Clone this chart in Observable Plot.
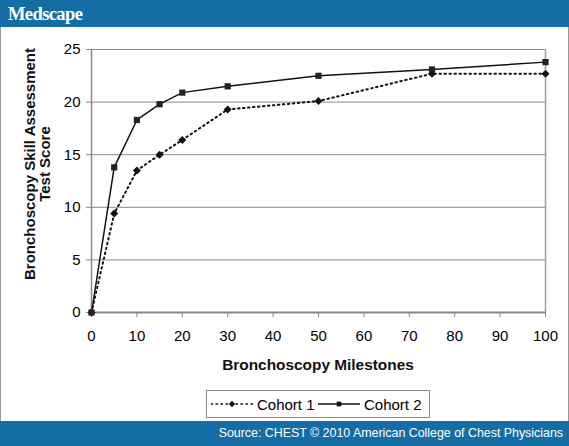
<!DOCTYPE html>
<html><head><meta charset="utf-8">
<script src="https://cdn.jsdelivr.net/npm/d3@7"></script>
<script src="https://cdn.jsdelivr.net/npm/@observablehq/plot@0.6"></script>
<style>
body{margin:0;background:#fff;}
#wrap{position:relative;width:569px;height:446px;overflow:hidden;font-family:"Liberation Sans",Arial,sans-serif;background:#fff;}
#hdr{position:absolute;left:0;top:0;width:569px;height:27px;background:#156da5;}
#hdr span{position:absolute;left:8px;top:2px;color:#fff;font-family:"Liberation Serif","DejaVu Serif",serif;font-weight:bold;font-size:18.5px;letter-spacing:-0.6px;line-height:24px;}
#ftr{position:absolute;left:0;top:421px;width:569px;height:25px;background:#156da5;}
#ftr span{position:absolute;right:6px;top:5px;color:#fff;font-size:12.4px;line-height:14px;}
#chart{position:absolute;left:0;top:27px;}
#edgeL{position:absolute;left:0;top:27px;width:1px;height:394px;background:#999;}
#edgeR{position:absolute;right:0;top:27px;width:1px;height:394px;background:#999;}
#legend{position:absolute;left:206px;top:390px;width:222px;height:26px;border:1px solid #8a8a8a;background:#fff;font-size:15px;color:#000;}
#legend .it{position:absolute;top:0;height:26px;display:flex;align-items:center;}
#legend svg{display:block;}
</style></head>
<body>
<div id="wrap">
  <div id="hdr"><span>Medscape</span></div>
  <div id="edgeL"></div><div id="edgeR"></div>
  <div id="chart"></div>
  <div id="legend"></div>
  <div id="ftr"><span>Source: CHEST © 2010 American College of Chest Physicians</span></div>
</div>
<script>
const milestones = [0, 5, 10, 15, 20, 30, 50, 75, 100];
const cohort1 = [0, 9.4, 13.5, 15.0, 16.4, 19.3, 20.1, 22.7, 22.7];
const cohort2 = [0, 13.8, 18.3, 19.8, 20.9, 21.5, 22.5, 23.1, 23.8];
const seriesNames = ["Cohort 1", "Cohort 2"];
const xTicks = [0, 10, 20, 30, 40, 50, 60, 70, 80, 90, 100];
const yTicks = [0, 5, 10, 15, 20, 25];
const xLabel = "Bronchoscopy Milestones";
const yLabelLines = ["Bronchoscopy Skill Assessment", "Test Score"];

const d1 = milestones.map((m, i) => ({x: m, y: cohort1[i]}));
const d2 = milestones.map((m, i) => ({x: m, y: cohort2[i]}));
const gray = "#8a8a8a";

const chart = Plot.plot({
  width: 569, height: 360,
  marginLeft: 91, marginRight: 24, marginTop: 22, marginBottom: 75,
  style: {fontFamily: "'Liberation Sans', Arial, sans-serif", fontSize: "15px", color: "#000", background: "transparent", overflow: "visible"},
  x: {domain: [0, 100], label: null},
  y: {domain: [0, 25], label: null},
  marks: [
    Plot.ruleY(yTicks.filter(d => d > 0), {stroke: gray, strokeWidth: 1}),
    Plot.ruleX([100], {stroke: "#a0a0a0", strokeWidth: 1.5}),
    Plot.axisX({ticks: xTicks, tickSize: 5, tickPadding: 13, stroke: gray, fill: "#000", fontSize: 15}),
    Plot.axisY({ticks: yTicks, tickSize: 5, tickPadding: 6, stroke: gray, fill: "#000", fontSize: 15}),
    Plot.ruleY([0], {stroke: gray, strokeWidth: 2}),
    Plot.ruleX([0], {stroke: gray, strokeWidth: 1.5}),
    Plot.line(d1, {x: "x", y: "y", stroke: "#111", strokeWidth: 2, strokeDasharray: "1.5,3.5", strokeLinecap: "round"}),
    Plot.line(d2, {x: "x", y: "y", stroke: "#111", strokeWidth: 1.5}),
    Plot.dot(d1, {x: "x", y: "y", symbol: "square", rotate: 45, r: 3.2, fill: "#111", stroke: "none"}),
    Plot.dot(d2, {x: "x", y: "y", symbol: "square", r: 3.5, fill: "#222", stroke: "none"})
  ]
});
document.getElementById("chart").appendChild(chart);

const svg = d3.select(chart);
svg.append("text")
  .attr("x", 318).attr("y", 343)
  .attr("text-anchor", "middle")
  .attr("font-weight", "bold").attr("font-size", 15.4).attr("fill", "#111")
  .text(xLabel);
yLabelLines.forEach((t, i) => {
  svg.append("text")
    .attr("transform", `translate(${35 + i * 15},137) rotate(-90)`)
    .attr("text-anchor", "middle")
    .attr("font-weight", "bold").attr("font-size", 15).attr("fill", "#111")
    .text(t);
});

// legend
const leg = d3.select("#legend");
const items = [
  {name: seriesNames[0], left: 4, dash: "1.5,3.5", sw: 1.5, symbol: d3.symbolSquare, size: 20, rot: 45},
  {name: seriesNames[1], left: 111, dash: null, sw: 1.5, symbol: d3.symbolSquare, size: 22, rot: 0}
];
items.forEach(it => {
  const div = leg.append("div").attr("class", "it").style("left", it.left + "px");
  const s = div.append("svg").attr("width", 42).attr("height", 12);
  s.append("line").attr("x1", 0).attr("x2", 42).attr("y1", 6).attr("y2", 6)
    .attr("stroke", "#111").attr("stroke-width", it.sw)
    .attr("stroke-dasharray", it.dash).attr("stroke-linecap", it.dash ? "round" : "butt");
  s.append("path").attr("d", d3.symbol(it.symbol, it.size)()).attr("transform", `translate(21,6) rotate(${it.rot})`).attr("fill", "#111");
  div.append("span").style("margin-left", "4px").text(it.name);
});
</script>
</body></html>
